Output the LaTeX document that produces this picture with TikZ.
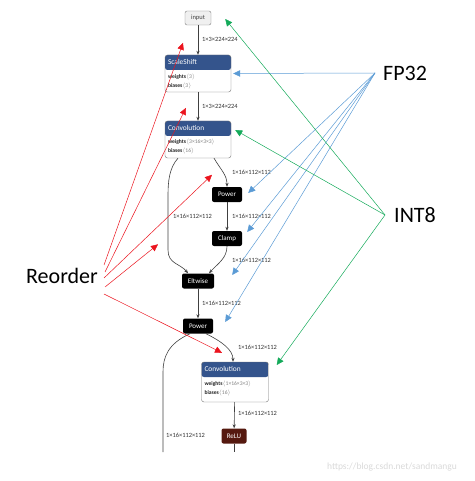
\documentclass[tikz,border=0pt]{standalone}
\usepackage{fontspec}
\setmainfont{Carlito}
\usetikzlibrary{arrows.meta}

\definecolor{hdblue}{RGB}{52,84,140}
\definecolor{relubrown}{RGB}{85,25,15}
\definecolor{fpblue}{RGB}{91,155,213}
\definecolor{intgreen}{RGB}{20,170,90}
\definecolor{reordred}{RGB}{235,20,30}

\tikzset{
  edge/.style={draw=black!75, line width=0.6pt, -{Stealth[length=4pt,width=3.2pt]}},
  plain/.style={draw=black!75, line width=0.6pt},
  shp/.style={font=\fontsize{6.4}{7}\selectfont, text=black!80, anchor=west, inner sep=0pt},
  layer/.style={draw=black!55, fill=white, rounded corners=2.5pt, minimum width=66pt, minimum height=37pt, inner sep=0pt,
    path picture={\fill[hdblue] ([yshift=1pt]path picture bounding box.north west) rectangle ([yshift=-15pt]path picture bounding box.north east);}},
  hdtxt/.style={font=\fontsize{7.4}{8}\selectfont, text=white, anchor=west, inner sep=0pt},
  attr/.style={font=\fontsize{5.6}{6}\selectfont, text=black!85, anchor=west, inner sep=0pt},
  op/.style={fill=black, text=white, rounded corners=2pt, minimum width=30pt, minimum height=15pt, inner sep=1pt, font=\fontsize{7}{8}\selectfont},
  big/.style={font=\fontsize{22}{24}\selectfont, inner sep=0pt},
  fparr/.style={draw=fpblue, line width=0.5pt, -{Triangle[length=7pt,width=6.5pt]}},
  intarr/.style={draw=intgreen, line width=0.5pt, -{Triangle[length=7pt,width=6.5pt]}},
  roarr/.style={draw=reordred, line width=0.5pt, -{Triangle[length=7pt,width=6.5pt]}},
}
\newcommand{\gr}[1]{\textcolor{gray}{$\langle$#1$\rangle$}}

\begin{document}
\begin{tikzpicture}[x=1pt, y=-1pt]
  \useasboundingbox (0,0) rectangle (474,481);

  % graph nodes
  \node[draw=black!50, fill=gray!12, rounded corners=2pt, minimum width=26pt, minimum height=14pt, inner sep=0pt,
        font=\fontsize{6.5}{7}\selectfont, text=black!75] (in) at (198,18) {input};
  \node[layer] (ss) at (198,73.5) {};
  \node[hdtxt] (ssh) at ([xshift=3pt,yshift=-7.5pt]ss.north west) {ScaleShift};
  \node[attr] (ssw) at ([xshift=3pt,yshift=-22pt]ss.north west) {\textbf{weights}\gr{3}};
  \node[attr] (ssb) at ([xshift=3pt,yshift=-31pt]ss.north west) {\textbf{biases}\gr{3}};

  \node[layer] (cv1) at (198,139.5) {};
  \node[hdtxt] (cv1h) at ([xshift=3pt,yshift=-7.5pt]cv1.north west) {Convolution};
  \node[attr] (cv1w) at ([xshift=3pt,yshift=-21pt]cv1.north west) {\textbf{weights}\gr{3×16×3×3}};
  \node[attr] (cv1b) at ([xshift=3pt,yshift=-30pt]cv1.north west) {\textbf{biases}\gr{16}};

  \node[op] (pw1) at (227,194.5) {Power};
  \node[op] (cl) at (227,238.5) {Clamp};
  \node[op, minimum width=32pt] (elt) at (198,281) {Eltwise};
  \node[op] (pw2) at (198,326) {Power};

  \node[layer, minimum width=67pt, minimum height=40pt] (cv2) at (235,382) {};
  \node[hdtxt] (cv2h) at ([xshift=3pt,yshift=-7.5pt]cv2.north west) {Convolution};
  \node[attr] (cv2w) at ([xshift=3pt,yshift=-22pt]cv2.north west) {\textbf{weights}\gr{1×16×3×3}};
  \node[attr] (cv2b) at ([xshift=3pt,yshift=-31pt]cv2.north west) {\textbf{biases}\gr{16}};

  \node[op, fill=relubrown, minimum width=25pt] (relu) at (234,436) {ReLU};

  \coordinate (outl) at (163,452);
  \coordinate (outr) at (234,452);

  % edges
  \draw[edge] (in) -- (ss);
  \draw[edge] (ss) -- (cv1);
  \draw[edge] ([xshift=16pt]cv1.south) .. controls +(7,12) and +(0,-12) .. (pw1.north);
  \draw[edge] ([xshift=-20pt]cv1.south) .. controls +(-9,10) and +(0,-14) .. (168,196) -- (168,250)
    .. controls +(0,14) and +(-8,-10) .. ([xshift=-10pt]elt.north);
  \draw[edge] (pw1) -- (cl);
  \draw[edge] (cl.south) .. controls +(0,12) and +(9,-10) .. ([xshift=11pt]elt.north);
  \draw[edge] (elt) -- (pw2);
  \draw[edge] ([xshift=8pt]pw2.south) .. controls +(16,8) and +(0,-12) .. ([xshift=-2pt]cv2.north);
  \draw[plain] ([xshift=-8pt]pw2.south) .. controls +(-22,10) and +(0,-15) .. (163,372) -- (outl);
  \draw[edge] (cv2) -- (relu);
  \draw[plain] (relu) -- (outr);

  % shape labels
  \node[shp] (l1) at (202,39) {1×3×224×224};
  \node[shp] (l2) at (202,106) {1×3×224×224};
  \node[shp] (l3) at (232,172) {1×16×112×112};
  \node[shp] (l4) at (173,216) {1×16×112×112};
  \node[shp] (l5) at (232,216) {1×16×112×112};
  \node[shp] (l6) at (232,260) {1×16×112×112};
  \node[shp] (l7) at (202,303) {1×16×112×112};
  \node[shp] (l8) at (238,347) {1×16×112×112};
  \node[shp] (l9) at (238,413) {1×16×112×112};
  \node[shp] (l10) at (166,435) {1×16×112×112};

  % callouts
  \node[big, anchor=west] (fp) at (383,73) {FP32};
  \node[big, anchor=west] (i8) at (394,215) {INT8};
  \node[big] (ro) at (62,276) {Reorder};

  \draw[fparr] ([xshift=-8pt]fp.west) -- ([xshift=2pt]ss.east);
  \draw[fparr] ([xshift=-8pt]fp.west) -- ([xshift=6pt,yshift=1.5pt]pw1.east);
  \draw[fparr] ([xshift=-8pt]fp.west) -- ([xshift=5pt,yshift=6.5pt]cl.east);
  \draw[fparr] ([xshift=-8pt]fp.west) -- ([xshift=18pt,yshift=6pt]elt.east);
  \draw[fparr] ([xshift=-8pt]fp.west) -- ([xshift=12pt,yshift=4pt]pw2.east);

  \draw[intarr] ([xshift=-9pt]i8.west) -- ([xshift=14pt,yshift=-1pt]in.east);
  \draw[intarr] ([xshift=-9pt]i8.west) -- ([xshift=4pt,yshift=9.5pt]cv1.east);
  \draw[intarr] ([xshift=-9pt]i8.west) -- ([xshift=8pt,yshift=17pt]cv2.east);

  \draw[roarr] ([xshift=6pt,yshift=11pt]ro.east) -- ([xshift=-15pt,yshift=12pt]ss.north);
  \draw[roarr] ([xshift=7pt,yshift=4pt]ro.east) -- ([xshift=-12pt,yshift=13pt]cv1.north);
  \draw[roarr] ([xshift=6pt,yshift=-2pt]ro.east) -- ([xshift=-15pt,yshift=12pt]pw1.north);
  \draw[roarr] ([xshift=7pt,yshift=-11pt]ro.east) -- ([xshift=-40pt,yshift=29pt]elt.north);
  \draw[roarr] ([xshift=6pt,yshift=-18pt]ro.east) -- ([xshift=-13pt,yshift=9pt]cv2.north);

  \node[font=\fontsize{9.5}{10}\selectfont, text=gray!30] (wm) at (392,467) {https://blog.csdn.net/sandmangu};
\end{tikzpicture}
\end{document}
